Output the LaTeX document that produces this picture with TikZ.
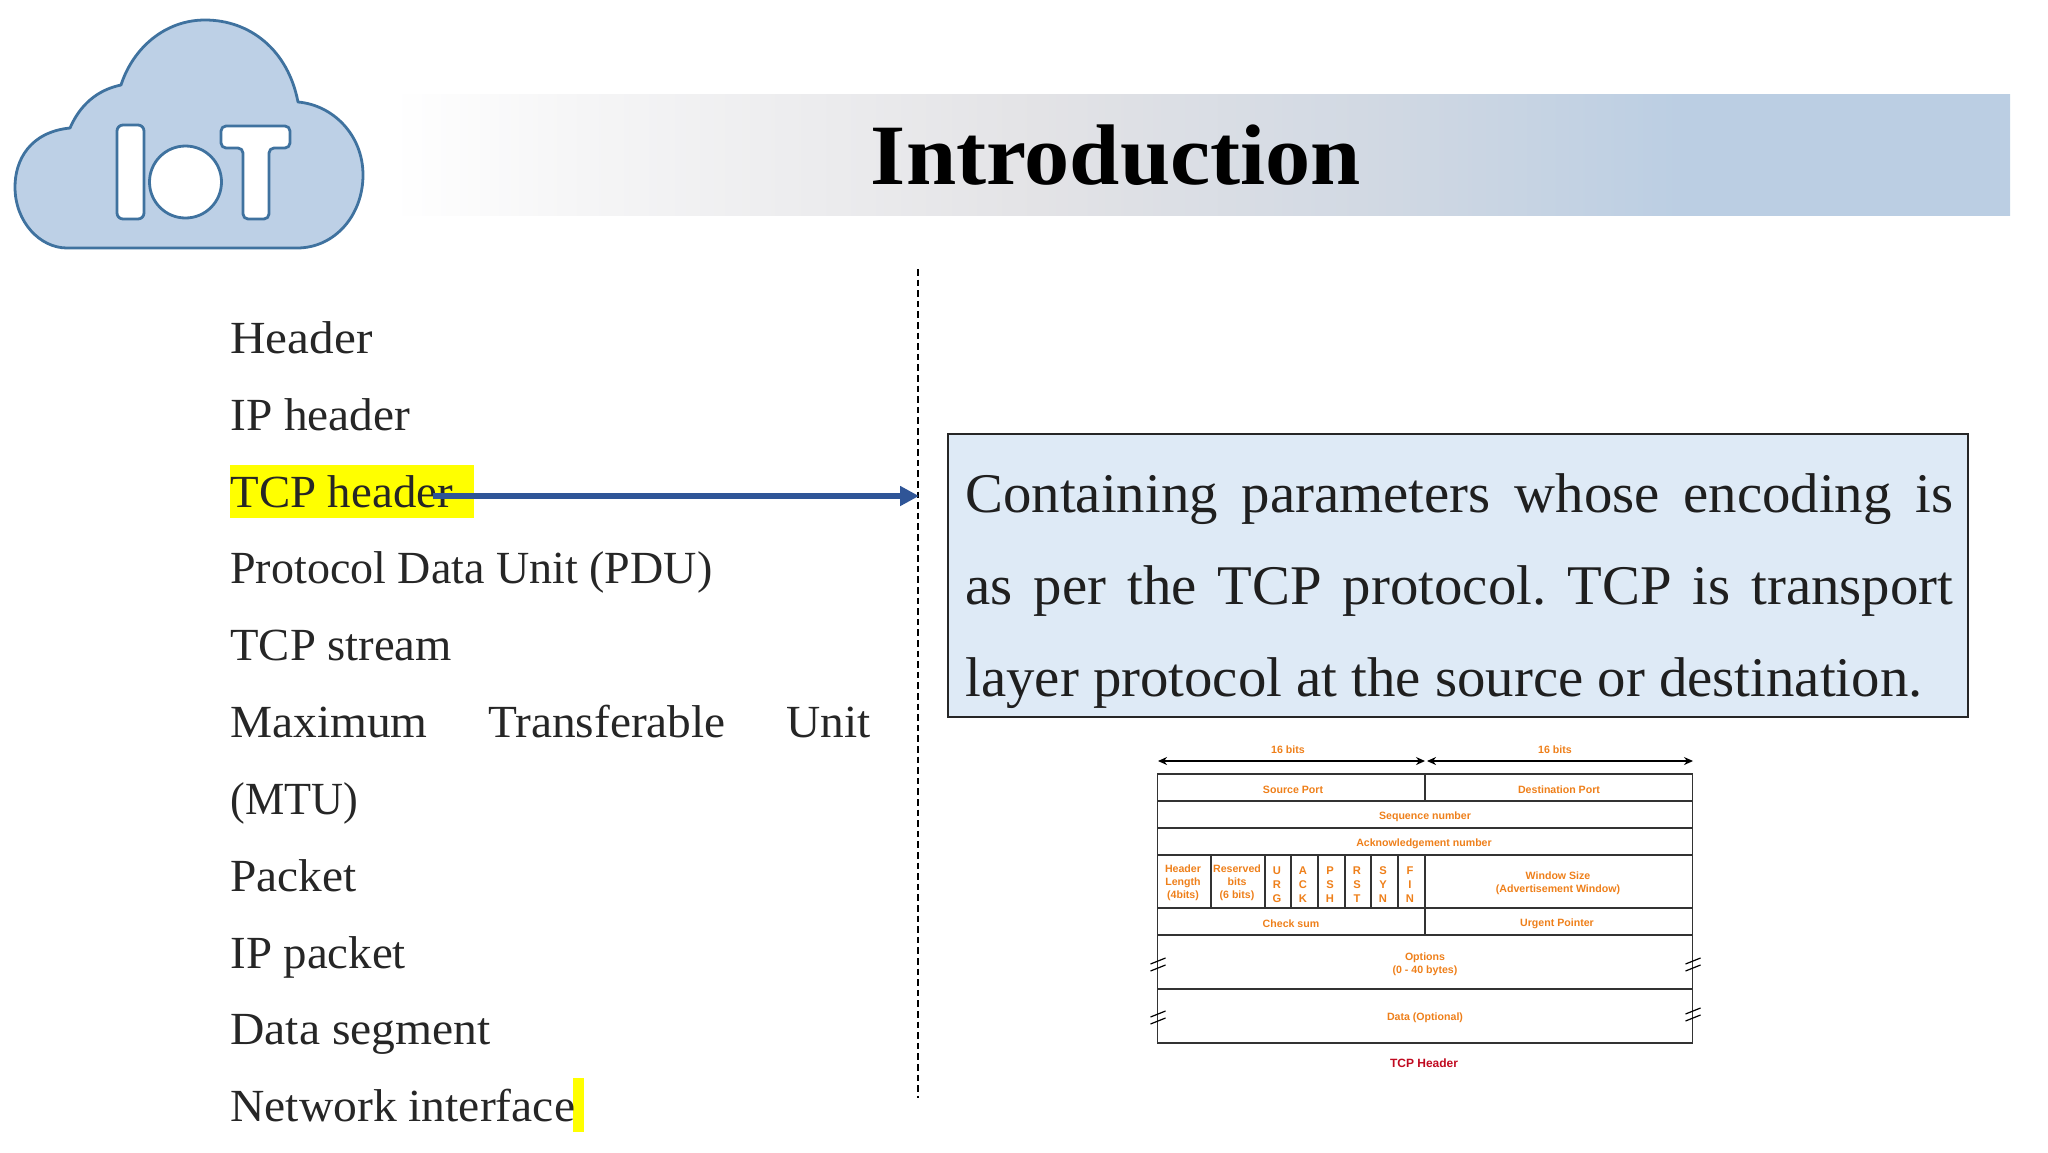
\documentclass[tikz,border=0pt]{standalone}
\usepackage{fontspec}
\usetikzlibrary{arrows.meta}
\setmainfont{Liberation Serif}[FakeStretch=1.05]
\newfontfamily\boxfont{Liberation Serif}[FakeStretch=1.014]
\setsansfont{Liberation Sans}
\definecolor{bandone}{HTML}{F5F5F6}
\definecolor{bandtwo}{HTML}{E3E3E6}
\definecolor{bandthree}{HTML}{D0D8E3}
\definecolor{bandend}{HTML}{BBCEE3}
\definecolor{cloudfill}{HTML}{BDD0E6}
\definecolor{cloudline}{HTML}{3F729F}
\definecolor{boxfill}{HTML}{DEEAF6}
\definecolor{arrowblue}{HTML}{2F5597}
\definecolor{tabor}{HTML}{EE7F1A}
\definecolor{tabred}{HTML}{C00A20}
\definecolor{tabline}{HTML}{333333}
\definecolor{marker}{RGB}{255,255,0}
\pgfdeclarehorizontalshading{bandshade}{100bp}{color(0bp)=(white);color(25bp)=(white);color(31bp)=(bandone);color(45bp)=(bandtwo);color(56bp)=(bandthree);color(65bp)=(bandend);color(75bp)=(bandend);color(100bp)=(bandend)}
\tikzset{
  listitem/.style={anchor=base west,inner sep=0pt,font=\fontsize{23}{23}\selectfont,text=black!85},
  boxline/.style={anchor=base west,inner sep=0pt,font=\boxfont\fontsize{28}{28}\selectfont,text=black!88},
  cell/.style={draw=tabline,line width=.85pt},
  celltext/.style={inner sep=0pt,align=center,text=tabor,font=\sffamily\bfseries\fontsize{5.3}{6.4}\selectfont},
  flagtext/.style={celltext,font=\sffamily\bfseries\fontsize{5.6}{7}\selectfont},
  logo/.style={draw=cloudline,line width=1.4pt,line join=round},
  breakmark/.style={draw=black,line width=.6pt},
  dimarrow/.style={{Stealth[length=4.5pt,width=4pt]}-{Stealth[length=4.5pt,width=4pt]},draw=black,line width=.7pt}
}
\begin{document}
\begin{tikzpicture}[x=0.5pt,y=-0.5pt]
\useasboundingbox (0,0) rectangle (2048,1152);
% title band
\shade[shading=bandshade] (392,94) rectangle (2010,215);
\node[inner sep=0pt,anchor=base] (title) at (1116,184) {\fontsize{43}{43}\selectfont\bfseries Introduction};
% cloud
\draw[logo,fill=cloudfill] (70,128)
  .. controls (30,132) and (15,160) .. (15,187)
  .. controls (15,222) and (40,248) .. (67,248)
  -- (297,248)
  .. controls (335,248) and (363,215) .. (363,175)
  .. controls (363,135) and (333,105) .. (298,102)
  .. controls (288,50) and (250,20) .. (205,20)
  .. controls (165,20) and (133,48) .. (121,85)
  .. controls (97,90) and (80,105) .. (70,128) -- cycle;
\draw[logo,fill=white,rounded corners=3pt] (117,125) rectangle (144,219);
\draw[logo,fill=white] (185.5,182) circle[radius=36];
\draw[logo,fill=white,rounded corners=2.5pt] (221,126) -- (290,126) -- (290,148) -- (269,148) -- (269,219) -- (243,219) -- (243,148) -- (221,148) -- cycle;
% divider
\coordinate (divtop) at (918,269);
\coordinate (divbot) at (918,1098);
\draw[black,line width=.65pt,dash pattern=on 3.3pt off 2pt] (divtop) -- (divbot);
% left list
\fill[marker] (230,465) rectangle (474,518);
\fill[marker] (573,1078) rectangle (584,1132);
\node[listitem] (l1) at (230,353) {\scalebox{1.02}[1]{Header}};
\node[listitem] (l2) at (230,430) {\scalebox{.98}[1]{IP header}};
\node[listitem] (l3) at (230,507) {\scalebox{.97}[1]{TCP header}};
\node[listitem] (l4) at (230,583) {\scalebox{.953}[1]{Protocol Data Unit (PDU)}};
\node[listitem] (l5) at (230,660) {\scalebox{.966}[1]{TCP stream}};
\node[listitem] (l6) at (230,737) {\scalebox{.98}[1]{\hbox to 326.5pt{Maximum\hfil Transferable\hfil Unit}}};
\node[listitem] (l7) at (230,814) {\scalebox{.915}[1]{(MTU)}};
\node[listitem] (l8) at (230,891) {\scalebox{.98}[1]{Packet}};
\node[listitem] (l9) at (230,968) {\scalebox{.97}[1]{IP packet}};
\node[listitem] (l10) at (230,1044) {\scalebox{.985}[1]{Data segment}};
\node[listitem] (l11) at (230,1121) {\scalebox{.985}[1]{Network interface}};
% arrow
\coordinate (arrstart) at (433,496);
\coordinate (arrend) at (919,496);
\draw[-{Triangle[length=9.5pt,width=9.5pt]},draw=arrowblue,fill=arrowblue,line width=3.2pt] (arrstart) -- (arrend);
% description box
\draw[fill=boxfill,draw=black!85,line width=.8pt] (948,434) rectangle (1968,717);
\node[boxline] (b1) at (965,512) {\hbox to 494pt{Containing\hfil parameters\hfil whose\hfil encoding\hfil is}};
\node[boxline] (b2) at (965,604) {\hbox to 494pt{as\hfil per\hfil the\hfil TCP\hfil protocol.\hfil TCP\hfil is\hfil transport}};
\node[boxline] (b3) at (965,696) {layer protocol at the source or destination.};
% table
\coordinate (d1) at (1158,761); \coordinate (d2) at (1425,761); \coordinate (d3) at (1427,761); \coordinate (d4) at (1693,761);
\draw[dimarrow] (d1) -- (d2);
\draw[dimarrow] (d3) -- (d4);
\node[celltext] (bits1) at (1288,750) {16 bits};
\node[celltext] (bits2) at (1555,750) {16 bits};
\draw[cell] (1157.5,774) rectangle (1425,801);
\draw[cell] (1425,774) rectangle (1692.5,801);
\draw[cell] (1157.5,801) rectangle (1692.5,828);
\draw[cell] (1157.5,828) rectangle (1692.5,855);
\foreach \a/\b in {1157.5/1211,1211/1264.7,1264.7/1291.3,1291.3/1318,1318/1344.7,1344.7/1371.3,1371.3/1398.3,1398.3/1425,1425/1692.5}{\draw[cell] (\a,855) rectangle (\b,908);}
\draw[cell] (1157.5,908) rectangle (1425,935);
\draw[cell] (1425,908) rectangle (1692.5,935);
\draw[cell] (1157.5,935) rectangle (1692.5,989);
\draw[cell] (1157.5,989) rectangle (1692.5,1043);
\node[celltext] (src) at (1293,790) {Source Port};
\node[celltext] (dst) at (1559,790) {Destination Port};
\node[celltext] (seq) at (1425,817) {Sequence number};
\node[celltext] (ack) at (1424,844) {Acknowledgement number};
\node[celltext] (hl) at (1183,883) {Header\\Length\\(4bits)};
\node[celltext] (res) at (1237,883) {Reserved\\bits\\(6 bits)};
\node[flagtext] (urg) at (1277,885) {U\\R\\G};
\node[flagtext] (ackf) at (1303,885) {A\\C\\K};
\node[flagtext] (psh) at (1330,885) {P\\S\\H};
\node[flagtext] (rst) at (1357,885) {R\\S\\T};
\node[flagtext] (syn) at (1383,885) {S\\Y\\N};
\node[flagtext] (fin) at (1410,885) {F\\I\\N};
\node[celltext] (win) at (1558,883) {Window Size\\(Advertisement Window)};
\node[celltext] (chk) at (1291,923.5) {Check sum};
\node[celltext] (urp) at (1557,924) {Urgent Pointer};
\node[celltext] (opt) at (1425,964) {Options\\(0 - 40 bytes)};
\node[celltext] (data) at (1425,1018) {Data (Optional)};
\node[celltext,text=tabred,font=\sffamily\bfseries\fontsize{6}{7}\selectfont] (cap) at (1424,1063) {TCP Header};
% break marks
\foreach \x/\y in {1158/966,1158/1019,1693/966,1693/1016}{
  \draw[breakmark] (\x-7.5,\y-2) -- (\x+7.5,\y-8);
  \draw[breakmark] (\x-7.5,\y+5) -- (\x+7.5,\y-1);
}
\end{tikzpicture}
\end{document}
